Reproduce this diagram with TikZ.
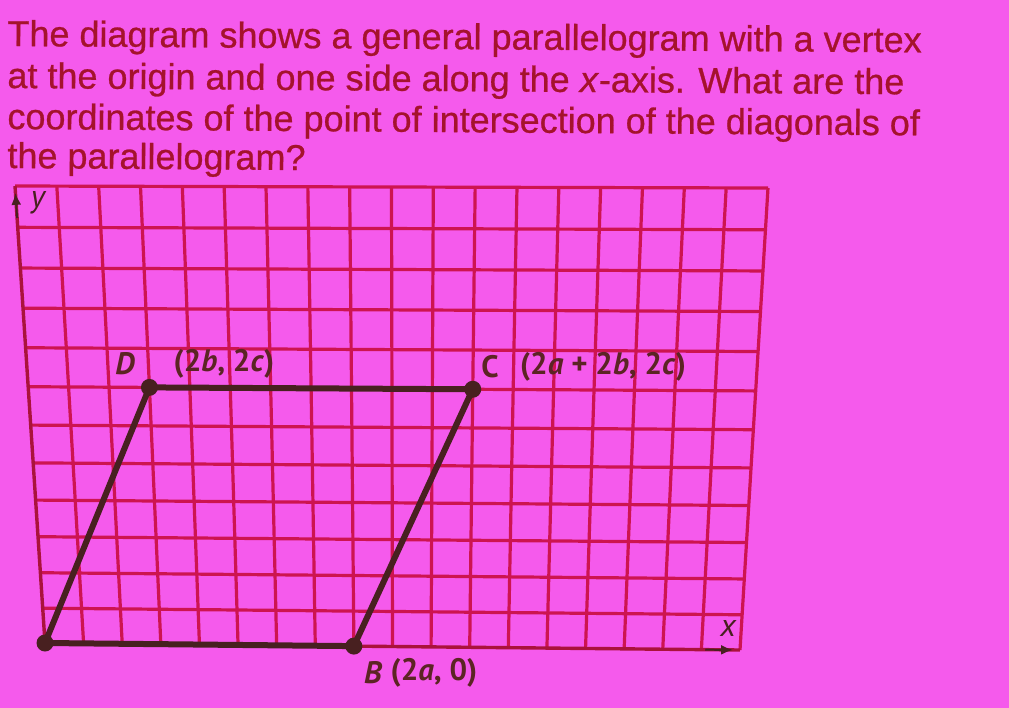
\documentclass[tikz,border=0pt]{standalone}
\usepackage{fontspec}
\setmainfont{Liberation Sans}
\newfontfamily\qfont{Liberation Sans}[FakeBold=0.7,ItalicFeatures={FakeBold=0.7}]
\newfontfamily\labfont{PT Sans}
\usetikzlibrary{arrows.meta,calc}
\definecolor{bgpink}{RGB}{245,90,236}
\definecolor{gridred}{RGB}{205,20,80}
\definecolor{axisred}{RGB}{170,18,60}
\definecolor{qtext}{RGB}{165,18,45}
\definecolor{figdark}{RGB}{72,32,32}
\definecolor{labdark}{RGB}{92,36,36}
\def\BLx{45}\def\BLy{643}\def\BRx{740}\def\BRy{650}
\def\TLx{15}\def\TLy{186}\def\TRx{768}\def\TRy{188}
\newcommand\gpt[3]{%
  \pgfmathsetmacro\gptx{(1-#1)*(1-#2)*\BLx+#1*(1-#2)*\BRx+(1-#1)*#2*\TLx+#1*#2*\TRx}%
  \pgfmathsetmacro\gpty{(1-#1)*(1-#2)*\BLy+#1*(1-#2)*\BRy+(1-#1)*#2*\TLy+#1*#2*\TRy}%
  \coordinate (#3) at (\gptx,\gpty);}
\newcommand\rowfrac[1]{(35*#1+0.2955*#1*(#1-1))/459}
\begin{document}
\begin{tikzpicture}[x=0.5pt,y=-0.5pt,
  gridline/.style={gridred,line width=1.6pt},
  axisline/.style={axisred,line width=1.7pt},
  edge/.style={figdark,line width=3pt,line cap=round},
  vdot/.style={circle,fill=figdark,inner sep=0pt,minimum size=8.5pt},
  qline/.style={anchor=base west,inner sep=0pt,text=qtext,font=\qfont\fontsize{18}{21}\selectfont,rotate=-0.4},
  lab/.style={inner sep=0pt,text=labdark,font=\labfont\bfseries\fontsize{15.5}{18}\selectfont},
  axlab/.style={inner sep=0pt,text=figdark,font=\labfont\itshape\fontsize{16}{18}\selectfont}]
\useasboundingbox (0,0) rectangle (1009,708);
\fill[bgpink] (0,0) rectangle (1009,708);
% question text
\node[qline] (q1) at (7,46) {The diagram shows a general parallelogram with a vertex};
\node[qline] (q2) at (7,88) {at the origin and one side along the \textit{x}-axis. What are the};
\node[qline] (q3) at (7,129) {coordinates of the point of intersection of the diagonals of};
\node[qline] (q4) at (7,168) {the parallelogram?};
% grid
\foreach \j in {1,...,12} {
  \pgfmathsetmacro\vv{\rowfrac{\j}}
  \gpt{0}{\vv}{rl\j}
  \gpt{1}{\vv}{rr\j}
  \draw[gridline] (rl\j) -- (rr\j);
}
\foreach \i in {1,...,18} {
  \pgfmathsetmacro\uu{\i/18}
  \gpt{\uu}{0}{cb\i}
  \gpt{\uu}{1}{ct\i}
  \draw[gridline] (cb\i) -- (ct\i);
}
% axes
\gpt{0}{0}{O}
\gpt{0}{1}{YT}
\gpt{1}{0}{XR}
\draw[axisline] (O) -- (YT);
\draw[axisline] (O) -- (XR);
\coordinate (ya) at ($(O)!0.93!(YT)$);
\coordinate (yb) at ($(O)!0.985!(YT)$);
\coordinate (xa) at ($(O)!0.95!(XR)$);
\coordinate (xb) at ($(O)!0.99!(XR)$);
\draw[figdark,line width=1pt,-{Latex[length=6pt,width=5pt]}] (ya) -- (yb);
\draw[figdark,line width=1pt,-{Latex[length=6pt,width=5pt]}] (xa) -- (xb);
\node[axlab] (ylab) at (38,203) {y};
\node[axlab] (xlab) at (728,628) {x};
% parallelogram vertices
\pgfmathsetmacro\vseven{\rowfrac{7}}
\gpt{0.4444}{0}{Bp}
\gpt{0.6111}{\vseven}{Cp}
\gpt{0.1667}{\vseven}{Dp}
\node[vdot] (nO) at (O) {};
\node[vdot] (nB) at (Bp) {};
\node[vdot] (nC) at (Cp) {};
\node[vdot] (nD) at (Dp) {};
\draw[edge] (nO.center) -- (nB.center);
\draw[edge] (nB.center) -- (nC.center);
\draw[edge] (nC.center) -- (nD.center);
\draw[edge] (nD.center) -- (nO.center);
% labels
\node[lab] (lD) at (125,364) {\itshape D};
\node[lab] (lDc) at (224,364) {(2\textit{b}, 2\textit{c})};
\node[lab] (lC) at (490,367) {C};
\node[lab] (lCc) at (603,367) {(2\textit{a} + 2\textit{b}, 2\textit{c})};
\node[lab] (lB) at (373,673) {\itshape B};
\node[lab] (lBc) at (434,673) {(2\textit{a}, 0)};
\end{tikzpicture}
\end{document}
